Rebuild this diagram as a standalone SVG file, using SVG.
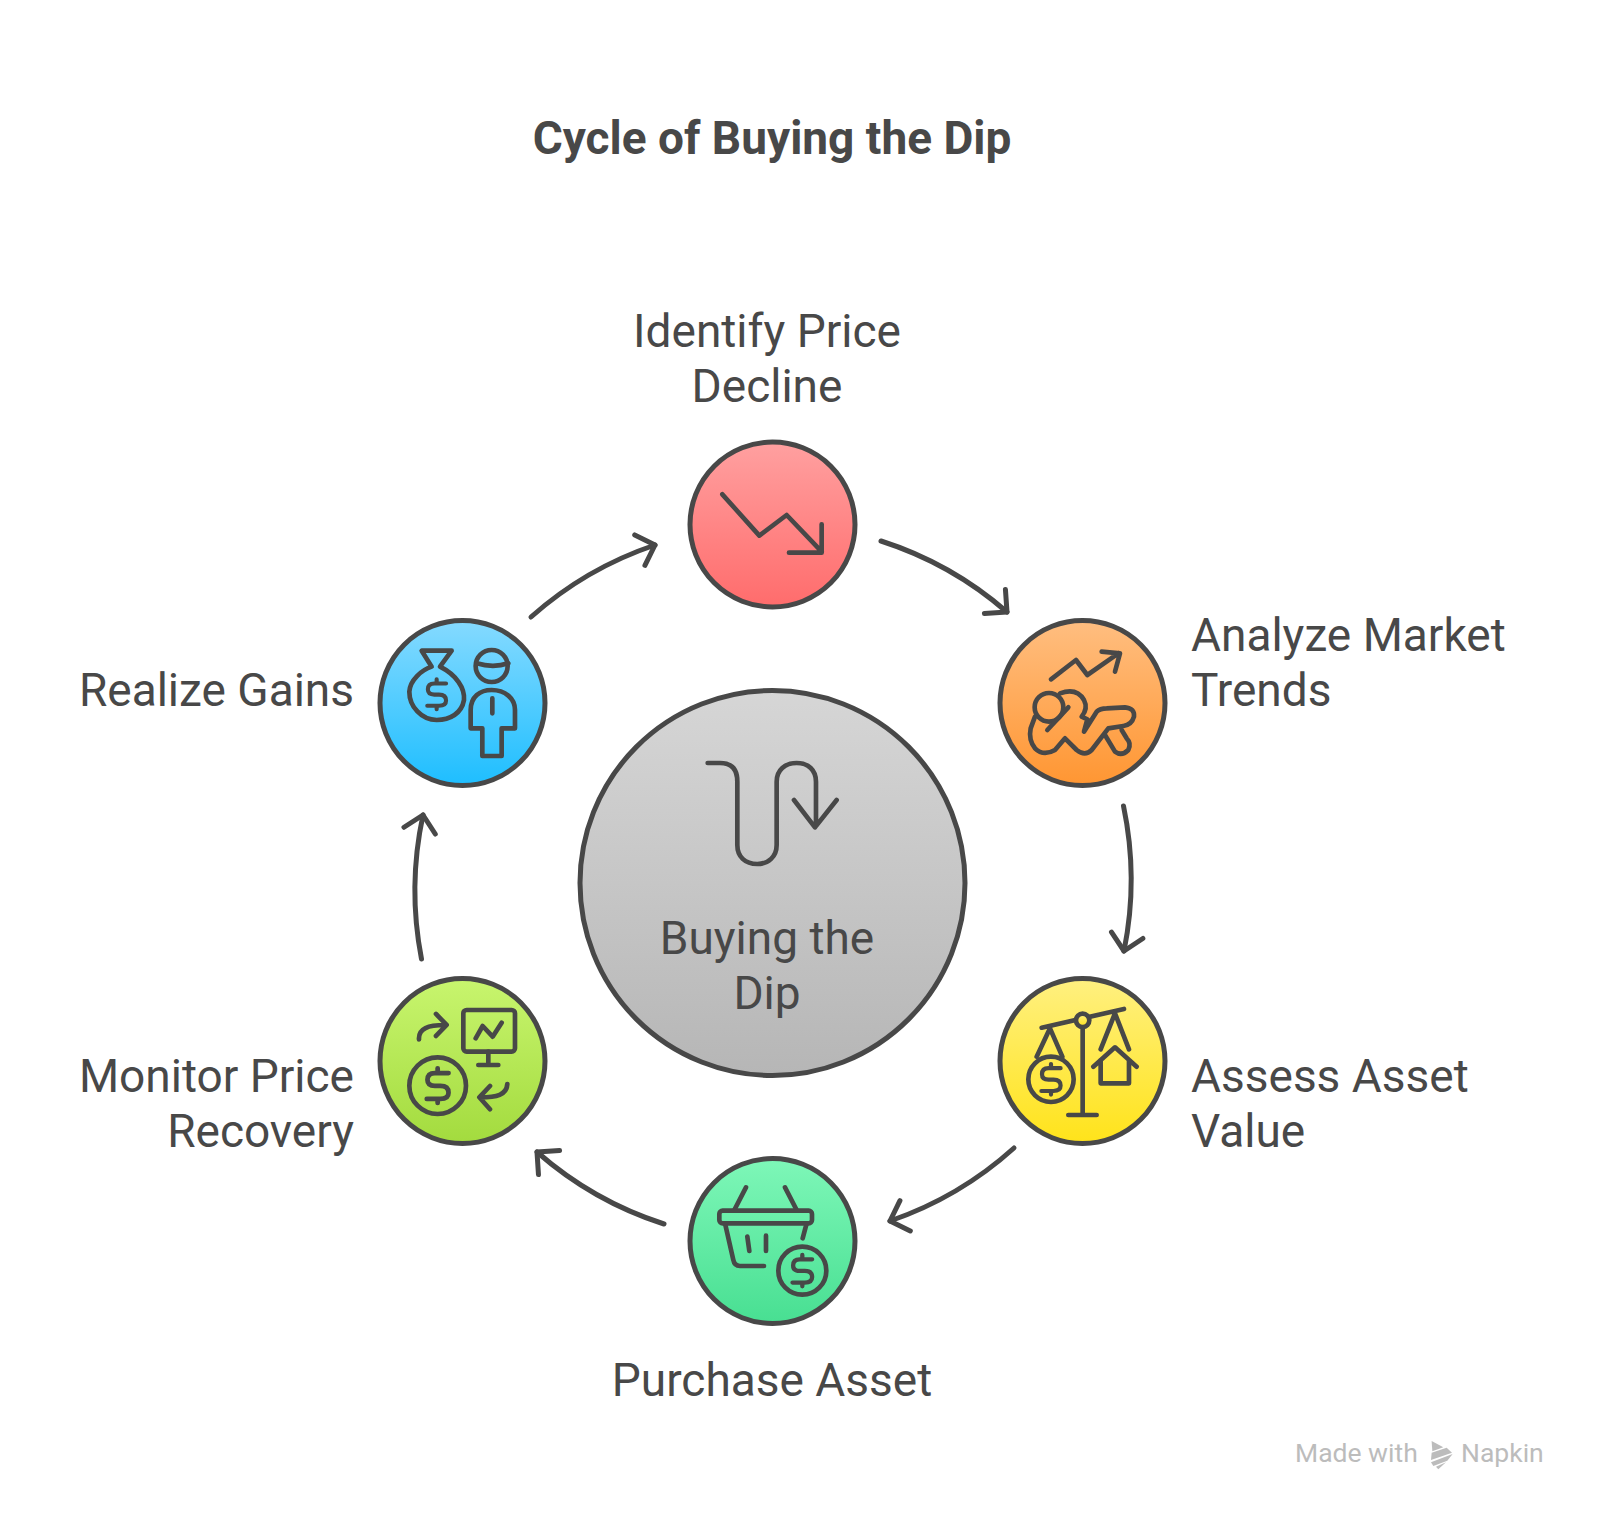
<svg xmlns="http://www.w3.org/2000/svg" width="1600" height="1517" viewBox="0 0 1600 1517">
<style>
text{font-family:Roboto,"Liberation Sans",sans-serif;fill:#484848;font-size:46px}
.t{font-weight:700}
.m{text-anchor:middle}
.e{text-anchor:end}
.c{stroke:#484848;stroke-width:5}
.i{fill:none;stroke:#484848;stroke-width:14;stroke-linecap:round;stroke-linejoin:round}
.a{fill:none;stroke:#484848;stroke-width:5;stroke-linecap:round}
.w{font-size:26.500px;fill:#bcbcbc}
</style>
<defs>
<linearGradient id="gr" x1="0" y1="0" x2="0" y2="1"><stop offset="0" stop-color="#FFA0A0"/><stop offset="1" stop-color="#FF6C6C"/></linearGradient>
<linearGradient id="go" x1="0" y1="0" x2="0" y2="1"><stop offset="0" stop-color="#FFBE80"/><stop offset="1" stop-color="#FF9632"/></linearGradient>
<linearGradient id="gy" x1="0" y1="0" x2="0" y2="1"><stop offset="0" stop-color="#FFF080"/><stop offset="1" stop-color="#FFE31A"/></linearGradient>
<linearGradient id="gt" x1="0" y1="0" x2="0" y2="1"><stop offset="0" stop-color="#7EF7B8"/><stop offset="1" stop-color="#48DF92"/></linearGradient>
<linearGradient id="gg" x1="0" y1="0" x2="0" y2="1"><stop offset="0" stop-color="#C8F56E"/><stop offset="1" stop-color="#A3DB3E"/></linearGradient>
<linearGradient id="gb" x1="0" y1="0" x2="0" y2="1"><stop offset="0" stop-color="#85DAFF"/><stop offset="1" stop-color="#1EBEFF"/></linearGradient>
<linearGradient id="gc" x1="0" y1="0" x2="0" y2="1"><stop offset="0" stop-color="#D6D6D6"/><stop offset="1" stop-color="#B6B6B6"/></linearGradient>
<marker id="ah" markerUnits="userSpaceOnUse" markerWidth="40" markerHeight="50" refX="30" refY="25" orient="auto" overflow="visible">
<path d="M14 9 L30 25 L14 41" fill="none" stroke="#484848" stroke-width="5" stroke-linecap="round" stroke-linejoin="round"/>
</marker>
<path id="dh" d="M32 -28 H-8 Q-30 -28 -30 -8 Q-30 10 -8 10 H8 Q32 10 32 30 Q32 48 8 48 H-32 M0 -42 V-28 M0 48 V60" transform="translate(0,-9)"/>
</defs>
<rect width="1600" height="1517" fill="#fff"/>
<text id="title" class="t m" x="772" y="154">Cycle of Buying the Dip</text>
<g id="connectors">
<path class="a" marker-end="url(#ah)" d="M881 541 A359 359 0 0 1 1007 612"/>
<path class="a" marker-end="url(#ah)" d="M1123.500 806 A359 359 0 0 1 1124 951"/>
<path class="a" marker-end="url(#ah)" d="M1014 1148 A359 359 0 0 1 890 1221"/>
<path class="a" marker-end="url(#ah)" d="M664 1224 A359 359 0 0 1 537 1152"/>
<path class="a" marker-end="url(#ah)" d="M421.500 959 A359 359 0 0 1 423 815"/>
<path class="a" marker-end="url(#ah)" d="M531 617 A359 359 0 0 1 655 545"/>
</g>
<g id="center">
<circle class="c" cx="772.500" cy="883" r="192.500" fill="url(#gc)"/>
<g transform="translate(680 740) scale(.3333)"><path class="i" d="M83 69 H120 Q172 69 172 125 V315 C172 350 195 372 232 372 C265 372 290 350 290 315 V125 C290 90 315 69 350 69 C385 69 408 90 408 125 V258 M342 180 L405 262 L470 180"/></g>
<text class="m" x="767" y="954">Buying the</text>
<text class="m" x="767" y="1009">Dip</text>
</g>
<g id="identify">
<circle class="c" cx="772.500" cy="524.500" r="82.500" fill="url(#gr)"/>
<g transform="translate(670 430) scale(.3333)"><path class="i" d="M157 193 L268 317 L350 255 L455 365 M455 283 V368 H357"/></g>
<text class="m" x="767" y="347">Identify Price</text>
<text class="m" x="767" y="402">Decline</text>
</g>
<g id="analyze">
<circle class="c" cx="1082.500" cy="703" r="82.500" fill="url(#go)"/>
<g transform="translate(980 600) scale(.3333)"><g class="i">
<path d="M213 238 L288 180 L322 225 L415 160 M365 155 L420 160 L405 215"/>
<circle cx="207" cy="322" r="43"/>
<path d="M240 280 Q290 262 312 300 Q325 325 305 350 L322 358 L312 395 L350 335 Q360 325 380 325 L435 322 Q465 325 462 350 Q455 375 430 378 L385 385 L335 450 Q315 470 290 450 L255 415 L225 450 Q190 470 165 445 Q145 420 152 385 L165 350 M202 390 L265 322 M375 405 L405 455 Q425 470 445 450 Q455 430 440 415 L425 390"/>
</g></g>
<text x="1191" y="650.500">Analyze Market</text>
<text x="1191" y="705.500">Trends</text>
</g>
<g id="assess">
<circle class="c" cx="1082.500" cy="1061" r="82.500" fill="url(#gy)"/>
<g transform="translate(980 960) scale(.3333)"><g class="i">
<path d="M185 203 L432 147 M308 200 V465 M265 465 H350 M210 205 L170 290 M210 205 L247 290 M405 160 L362 268 M405 160 L447 268 M340 320 L405 262 L470 320 M362 300 V370 H447 V300"/>
<circle cx="308" cy="181" r="20" fill="url(#gy)"/>
<circle cx="213" cy="358" r="68"/>
<use href="#dh" transform="translate(213 358) scale(.9)"/>
</g></g>
<text x="1191" y="1092">Assess Asset</text>
<text x="1191" y="1147">Value</text>
</g>
<g id="purchase">
<circle class="c" cx="772.500" cy="1241" r="82.500" fill="url(#gt)"/>
<g transform="translate(670 1140) scale(.3333)"><g class="i">
<path d="M228 142 L193 210 M345 142 L380 210 M165 250 L190 360 Q193 378 210 378 H282 M410 250 L398 295 M232 290 L238 333 M288 287 V333"/>
<rect x="148" y="212" width="278" height="38" rx="10"/>
<circle cx="397" cy="392" r="72"/>
<use href="#dh" transform="translate(397 392) scale(.92)"/>
</g></g>
<text class="m" x="772" y="1395.500">Purchase Asset</text>
</g>
<g id="monitor">
<circle class="c" cx="462.500" cy="1061" r="82.500" fill="url(#gg)"/>
<g transform="translate(360 960) scale(.3333)"><g class="i">
<path d="M177 238 C175 205 205 195 255 195 M228 162 L260 195 L228 228 M347 235 L368 198 L398 230 L425 188 M385 275 V315 M355 315 H415 M442 372 C440 405 410 412 360 412 M390 378 L358 412 L390 448"/>
<rect x="310" y="150" width="155" height="125" rx="10"/>
<circle cx="233" cy="377" r="85"/>
<use href="#dh" transform="translate(233 377) scale(1.02)"/>
</g></g>
<text class="e" x="354" y="1092">Monitor Price</text>
<text class="e" x="354" y="1147">Recovery</text>
</g>
<g id="realize">
<circle class="c" cx="462.500" cy="703" r="82.500" fill="url(#gb)"/>
<g transform="translate(360 600) scale(.3333)"><g class="i">
<path d="M185 152 H275 L240 200 C290 225 315 265 312 300 C305 340 270 360 230 360 C185 360 148 320 148 275 C150 240 185 210 215 200 Z"/>
<use href="#dh" transform="translate(230 283) scale(.88)"/>
<circle cx="395" cy="198" r="48"/>
<path d="M350 190 Q400 205 445 190 M332 385 V330 C332 290 360 270 395 270 C435 270 465 295 465 330 V385 H425 V468 H367 V385 Z M397 295 V340"/>
</g></g>
<text class="e" x="354" y="705.500">Realize Gains</text>
</g>
<g id="watermark">
<text class="w" x="1295" y="1462">Made with</text>
<g transform="translate(1280 1430) scale(.3333)" fill="#bcbcbc">
<polygon points="455,33 490,52 457,64"/>
<polygon points="455,68 500,53 516,68 453,90"/>
<polygon points="453,97 518,72 502,92 460,108"/>
<polygon points="468,110 498,97 475,118"/>
</g>
<text class="w" x="1461" y="1462">Napkin</text>
</g>
</svg>
